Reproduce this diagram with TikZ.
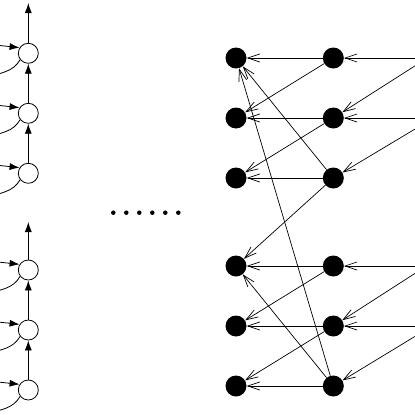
\documentclass[tikz,border=0pt]{standalone}
\usetikzlibrary{arrows.meta}
\begin{document}
\begin{tikzpicture}[x=1pt,y=-1pt,
 open/.style={circle,draw,line width=0.8pt,minimum size=20pt,inner sep=0pt},
 blob/.style={circle,fill,minimum size=21pt,inner sep=0pt},
 fa/.style={-{Latex[length=10pt,width=7pt]},line width=0.8pt},
 ln/.style={line width=0.8pt},
 ba/.style={-{Straight Barb[length=12pt,width=8pt]},line width=0.7pt},
 tinydot/.style={circle,fill,minimum size=4.5pt,inner sep=0pt}]
\useasboundingbox (0,0) rectangle (415,415);
\begin{scope}
\clip (0,0) rectangle (415,415);
% left column
\foreach \n/\y in {1/53.3,2/113.3,3/173.3,4/270,5/330,6/390}{
  \node[open] (L\n) at (28.3,\y) {};
  \coordinate (I\n) at (-30,\y-11);
  \coordinate (C\n) at (-12,\y+24);
  \draw[fa] (I\n) -- (L\n.147);
  \draw[ln] (L\n.218) to[out=240,in=20] (C\n);
}
\coordinate (T1) at (28.3,3);
\coordinate (T2) at (28.3,222);
\draw[fa] (L1) -- (T1);
\draw[fa] (L2) -- (L1);
\draw[fa] (L3) -- (L2);
\draw[fa] (L4) -- (T2);
\draw[fa] (L5) -- (L4);
\draw[fa] (L6) -- (L5);
% dots
\foreach \i/\x in {1/113.3,2/126.3,3/139.3,4/152.3,5/165.3,6/178.3}{
  \node[tinydot] (d\i) at (\x,212.7) {};
}
% right part
\foreach \n/\y in {1/58,2/118,3/178,4/266,5/326,6/386}{
  \node[blob] (A\n) at (236,\y) {};
  \node[blob] (B\n) at (333.3,\y) {};
}
\coordinate (R1h) at (430,58);
\coordinate (R1d) at (430,56.3);
\coordinate (R2h) at (430,118);
\coordinate (R2d) at (430,120.1);
\coordinate (R4h) at (430,266);
\coordinate (R4d) at (430,263.7);
\coordinate (R5h) at (430,326);
\coordinate (R5d) at (430,327.3);
\draw[ba] (R1h) -- (B1);
\draw[ba] (R1d) -- (B2);
\draw[ba] (R2h) -- (B2);
\draw[ba] (R2d) -- (B3);
\draw[ba] (R4h) -- (B4);
\draw[ba] (R4d) -- (B5);
\draw[ba] (R5h) -- (B5);
\draw[ba] (R5d) -- (B6);
\foreach \n in {1,...,6}{ \draw[ba] (B\n) -- (A\n); }
\draw[ba] (B1) -- (A2);
\draw[ba] (B2) -- (A3);
\draw[ba] (B3) -- (A1);
\draw[ba] (B3) -- (A4);
\draw[ba] (B6) -- (A1);
\draw[ba] (B4) -- (A5);
\draw[ba] (B5) -- (A6);
\draw[ba] (B6) -- (A4);
\end{scope}
\end{tikzpicture}
\end{document}
